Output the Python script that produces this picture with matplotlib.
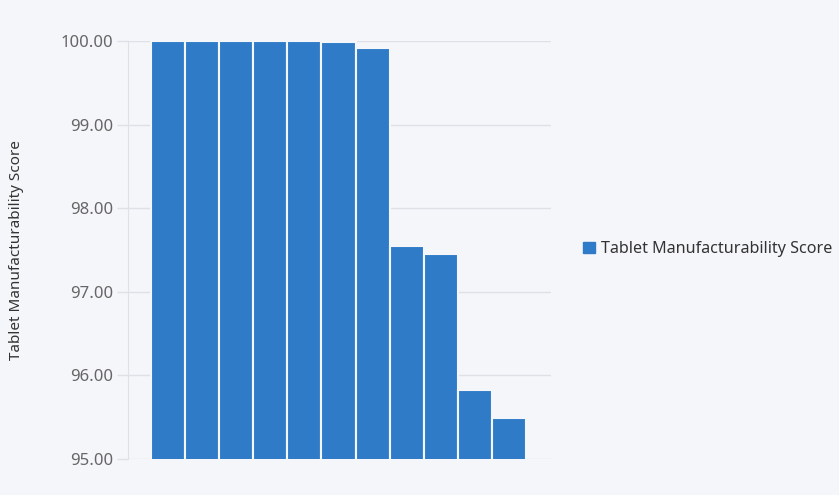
import matplotlib.pyplot as plt
from matplotlib.patches import Patch

plt.rcParams['font.family'] = ['Noto Sans', 'DejaVu Sans']

# one bar per sample
samples = list(range(11))
scores = [100.0, 100.0, 100.0, 100.0, 100.0, 99.99, 99.92, 97.55, 97.45, 95.83, 95.49]
yticks = [95, 96, 97, 98, 99, 100]
series_name = 'Tablet Manufacturability Score'

bg = '#f5f6fa'
bar_color = '#2f7bc8'

fig = plt.figure(figsize=(8.39, 4.95), dpi=100, facecolor=bg)
ax = fig.add_axes([0.1526, 0.0727, 0.504, 0.8444], facecolor=bg)

ax.bar(samples, scores, width=1.0, color=bar_color, edgecolor='#f5f6fa', linewidth=1.5, zorder=3)

ax.set_ylim(95, 100)
ax.set_xlim(-1.175, 11.23)
ax.set_yticks(yticks)
ax.set_yticklabels([f'{v:.2f}' for v in yticks])
ax.set_xticks([])

ax.grid(axis='y', color='#dfe1e6', linewidth=1, zorder=0)
for s in ['top', 'right', 'bottom']:
    ax.spines[s].set_visible(False)
ax.spines['left'].set_color('#dfe1e6')
ax.tick_params(axis='y', colors='#dfe1e6', length=8, width=1, labelcolor='#666666', labelsize=12, pad=3)

ax.set_ylabel(series_name, fontsize=11, color='#333333', labelpad=26)

handle = Patch(facecolor=bar_color, edgecolor=bar_color)
fig.legend([handle], [series_name], loc='center left', bbox_to_anchor=(0.678, 0.497),
           frameon=False, fontsize=11.6, labelcolor='#333333',
           handlelength=0.72, handleheight=0.72, handletextpad=0.4)

fig.savefig('out.png', dpi=100, facecolor=bg)
